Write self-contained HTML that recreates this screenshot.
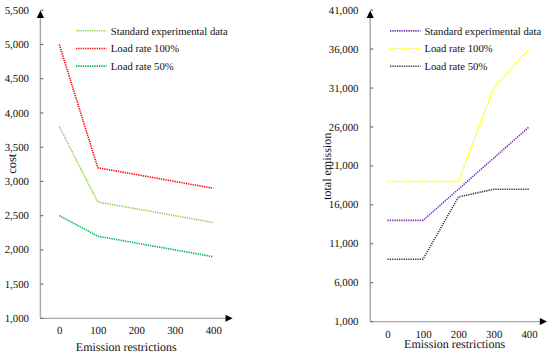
<!DOCTYPE html>
<html><head><meta charset="utf-8"><style>
html,body{margin:0;padding:0;background:#fff;width:550px;height:353px;overflow:hidden}
svg{display:block}
text{font-family:"Liberation Serif",serif;fill:#111;text-rendering:geometricPrecision}
</style></head><body>
<svg width="550" height="353" viewBox="0 0 550 353">
<line x1="40.4" y1="318.35" x2="40.4" y2="17.2" stroke="#a8a8a8" stroke-width="1.45"/>
<path d="M36.8,17.9 L40.4,10.6 L44.0,17.9 Z" fill="#000"/>
<line x1="40.4" y1="318.35" x2="225.7" y2="318.35" stroke="#a8a8a8" stroke-width="1.45"/>
<path d="M225.5,314.85 L232.7,318.35 L225.5,321.85 Z" fill="#000"/>
<line x1="40.4" y1="318.35" x2="43.4" y2="318.35" stroke="#666" stroke-width="1.1"/>
<text x="29.0" y="321.95" text-anchor="end" font-size="10.8">1,000</text>
<line x1="40.4" y1="284.12" x2="43.4" y2="284.12" stroke="#666" stroke-width="1.1"/>
<text x="29.0" y="287.72" text-anchor="end" font-size="10.8">1,500</text>
<line x1="40.4" y1="249.89" x2="43.4" y2="249.89" stroke="#666" stroke-width="1.1"/>
<text x="29.0" y="253.49" text-anchor="end" font-size="10.8">2,000</text>
<line x1="40.4" y1="215.66" x2="43.4" y2="215.66" stroke="#666" stroke-width="1.1"/>
<text x="29.0" y="219.26" text-anchor="end" font-size="10.8">2,500</text>
<line x1="40.4" y1="181.43" x2="43.4" y2="181.43" stroke="#666" stroke-width="1.1"/>
<text x="29.0" y="185.03" text-anchor="end" font-size="10.8">3,000</text>
<line x1="40.4" y1="147.20" x2="43.4" y2="147.20" stroke="#666" stroke-width="1.1"/>
<text x="29.0" y="150.80" text-anchor="end" font-size="10.8">3,500</text>
<line x1="40.4" y1="112.97" x2="43.4" y2="112.97" stroke="#666" stroke-width="1.1"/>
<text x="29.0" y="116.57" text-anchor="end" font-size="10.8">4,000</text>
<line x1="40.4" y1="78.74" x2="43.4" y2="78.74" stroke="#666" stroke-width="1.1"/>
<text x="29.0" y="82.34" text-anchor="end" font-size="10.8">4,500</text>
<line x1="40.4" y1="44.51" x2="43.4" y2="44.51" stroke="#666" stroke-width="1.1"/>
<text x="29.0" y="48.11" text-anchor="end" font-size="10.8">5,000</text>
<line x1="40.4" y1="10.28" x2="43.4" y2="10.28" stroke="#666" stroke-width="1.1"/>
<text x="29.0" y="13.88" text-anchor="end" font-size="10.8">5,500</text>
<text x="59.8" y="334.4" text-anchor="middle" font-size="10.8">0</text>
<text x="98.3" y="334.4" text-anchor="middle" font-size="10.8">100</text>
<text x="136.8" y="334.4" text-anchor="middle" font-size="10.8">200</text>
<text x="175.3" y="334.4" text-anchor="middle" font-size="10.8">300</text>
<text x="213.8" y="334.4" text-anchor="middle" font-size="10.8">400</text>
<text x="126.3" y="350.6" text-anchor="middle" font-size="12">Emission restrictions</text>
<text transform="translate(15.8,163.8) rotate(-90)" text-anchor="middle" font-size="12.5">cost</text>
<polyline points="59.30,126.66 97.80,201.97 136.30,208.81 174.80,215.66 213.30,222.51" fill="none" stroke="#92d050" stroke-width="1.6" stroke-dasharray="1.3 1.0"/>
<polyline points="59.30,44.51 97.80,167.74 136.30,174.58 174.80,181.43 213.30,188.28" fill="none" stroke="#ff0000" stroke-width="1.6" stroke-dasharray="1.3 1.0"/>
<polyline points="59.30,215.66 97.80,236.20 136.30,243.04 174.80,249.89 213.30,256.74" fill="none" stroke="#00b050" stroke-width="1.6" stroke-dasharray="1.3 1.0"/>
<line x1="76.0" y1="30.8" x2="106.6" y2="30.8" stroke="#92d050" stroke-width="1.6" stroke-dasharray="1.3 1.0"/>
<text x="110.8" y="34.60" font-size="10.7">Standard experimental data</text>
<line x1="76.0" y1="48.5" x2="106.6" y2="48.5" stroke="#ff0000" stroke-width="1.6" stroke-dasharray="1.3 1.0"/>
<text x="110.8" y="52.30" font-size="10.7">Load rate 100%</text>
<line x1="76.0" y1="66.1" x2="106.6" y2="66.1" stroke="#00b050" stroke-width="1.6" stroke-dasharray="1.3 1.0"/>
<text x="110.8" y="69.90" font-size="10.7">Load rate 50%</text>
<line x1="370.2" y1="321.6" x2="370.2" y2="17.2" stroke="#a8a8a8" stroke-width="1.45"/>
<path d="M366.59999999999997,17.9 L370.2,10.6 L373.8,17.9 Z" fill="#000"/>
<line x1="370.2" y1="321.6" x2="540.0" y2="321.6" stroke="#a8a8a8" stroke-width="1.45"/>
<path d="M539.8,318.1 L547.0,321.6 L539.8,325.1 Z" fill="#000"/>
<line x1="370.2" y1="321.60" x2="373.2" y2="321.60" stroke="#666" stroke-width="1.1"/>
<text x="358.5" y="325.20" text-anchor="end" font-size="10.8">1,000</text>
<line x1="370.2" y1="282.67" x2="373.2" y2="282.67" stroke="#666" stroke-width="1.1"/>
<text x="358.5" y="286.27" text-anchor="end" font-size="10.8">6,000</text>
<line x1="370.2" y1="243.74" x2="373.2" y2="243.74" stroke="#666" stroke-width="1.1"/>
<text x="358.5" y="247.34" text-anchor="end" font-size="10.8">11,000</text>
<line x1="370.2" y1="204.81" x2="373.2" y2="204.81" stroke="#666" stroke-width="1.1"/>
<text x="358.5" y="208.41" text-anchor="end" font-size="10.8">16,000</text>
<line x1="370.2" y1="165.88" x2="373.2" y2="165.88" stroke="#666" stroke-width="1.1"/>
<text x="358.5" y="169.48" text-anchor="end" font-size="10.8">21,000</text>
<line x1="370.2" y1="126.95" x2="373.2" y2="126.95" stroke="#666" stroke-width="1.1"/>
<text x="358.5" y="130.55" text-anchor="end" font-size="10.8">26,000</text>
<line x1="370.2" y1="88.02" x2="373.2" y2="88.02" stroke="#666" stroke-width="1.1"/>
<text x="358.5" y="91.62" text-anchor="end" font-size="10.8">31,000</text>
<line x1="370.2" y1="49.09" x2="373.2" y2="49.09" stroke="#666" stroke-width="1.1"/>
<text x="358.5" y="52.69" text-anchor="end" font-size="10.8">36,000</text>
<line x1="370.2" y1="10.16" x2="373.2" y2="10.16" stroke="#666" stroke-width="1.1"/>
<text x="358.5" y="13.76" text-anchor="end" font-size="10.8">41,000</text>
<text x="388.0" y="337.6" text-anchor="middle" font-size="10.8">0</text>
<text x="423.5" y="337.6" text-anchor="middle" font-size="10.8">100</text>
<text x="458.9" y="337.6" text-anchor="middle" font-size="10.8">200</text>
<text x="494.2" y="337.6" text-anchor="middle" font-size="10.8">300</text>
<text x="529.5" y="337.6" text-anchor="middle" font-size="10.8">400</text>
<text x="454.6" y="348.4" text-anchor="middle" font-size="12">Emission restrictions</text>
<text transform="translate(331.4,166.3) rotate(-90)" text-anchor="middle" font-size="12">total emission</text>
<polyline points="387.50,220.38 423.00,220.38 458.40,189.24 493.70,158.09 529.00,126.95" fill="none" stroke="#7030b0" stroke-width="1.6" stroke-dasharray="1.3 1.0"/>
<polyline points="387.50,181.45 423.00,181.45 458.40,181.45 493.70,88.02 529.00,49.09" fill="none" stroke="#ffff00" stroke-width="1.6" stroke-dasharray="1.3 1.0"/>
<polyline points="387.50,259.31 423.00,259.31 458.40,197.02 493.70,189.24 529.00,189.24" fill="none" stroke="#3c3c3c" stroke-width="1.6" stroke-dasharray="1.3 1.0"/>
<line x1="390.0" y1="30.9" x2="420.5" y2="30.9" stroke="#7030b0" stroke-width="1.6" stroke-dasharray="1.3 1.0"/>
<text x="424.4" y="34.70" font-size="10.7">Standard experimental data</text>
<line x1="390.0" y1="48.5" x2="420.5" y2="48.5" stroke="#ffff00" stroke-width="1.6" stroke-dasharray="1.3 1.0"/>
<text x="424.4" y="52.30" font-size="10.7">Load rate 100%</text>
<line x1="390.0" y1="66.2" x2="420.5" y2="66.2" stroke="#3c3c3c" stroke-width="1.6" stroke-dasharray="1.3 1.0"/>
<text x="424.4" y="70.00" font-size="10.7">Load rate 50%</text>
</svg>
</body></html>
